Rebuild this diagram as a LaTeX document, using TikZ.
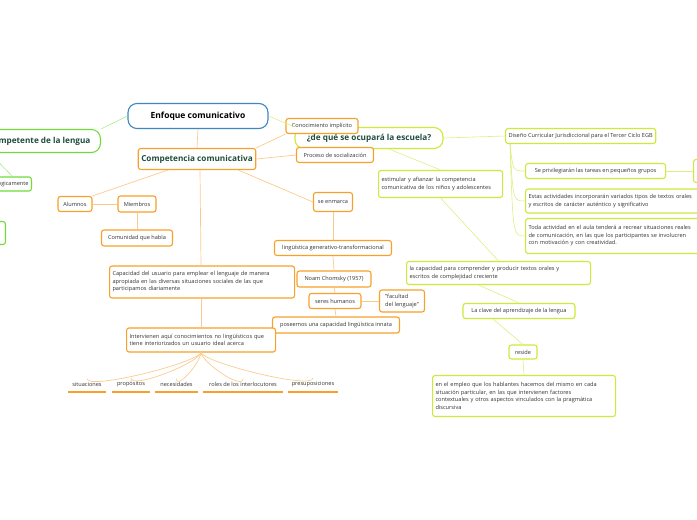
\documentclass[tikz,border=0pt]{standalone}
\usepackage{fontspec}
\setmainfont{Open Sans}
\begin{document}
\begin{tikzpicture}[x=1pt,y=-1pt,
 every node/.style={font=\fontsize{5.6}{7.5}\selectfont,text=black!80, inner sep=3pt},
 ob/.style={draw=orgB,line width=1.1pt,rounded corners=2.5pt,fill=white},
 gb/.style={draw=ygB,line width=1.1pt,rounded corners=2.5pt,fill=white},
 lb/.style={draw=grB,line width=1.1pt,rounded corners=2.5pt,fill=white},
 ol/.style={draw=orgL,line width=0.7pt},
 yl/.style={draw=ygL,line width=0.6pt},
 gl/.style={draw=grL,line width=0.6pt},
 big/.style={font=\fontsize{8.2}{10}\selectfont\bfseries,text=dkg}]
\definecolor{orgB}{HTML}{F7A02A}\definecolor{orgL}{HTML}{FBCB8E}
\definecolor{ygB}{HTML}{CBEA3A}\definecolor{ygL}{HTML}{DDEF80}
\definecolor{grB}{HTML}{6EDD3A}\definecolor{grL}{HTML}{A8EC88}
\definecolor{blB}{HTML}{3C87C6}\definecolor{dkg}{HTML}{1F4D3A}
\useasboundingbox (0,0) rectangle (697,520);
\clip (0,0) rectangle (697,520);
% nodes
\node[draw=blB,line width=1.1pt,rounded corners=9pt,fill=white,minimum width=140pt,minimum height=25pt,font=\fontsize{8.5}{10}\selectfont\bfseries,text=black] (enf) at (198,116) {Enfoque comunicativo};
\node[draw=grB,line width=1.1pt,rounded corners=9pt,fill=white,minimum height=23pt,big,anchor=east,inner xsep=10pt] (comp) at (101,141) {Competente de la lengua};
\node[lb,anchor=east,minimum height=14pt] (log) at (32,184) {lógicamente};
\node[lb,anchor=east,minimum height=23pt,minimum width=20pt] (gb2) at (6,233) {};
\node[ob,big,minimum width=116pt,minimum height=21pt] (cc) at (197,159) {Competencia comunicativa};
\node[draw=ygB,line width=1.1pt,rounded corners=9pt,fill=white,big,minimum width=148pt,minimum height=21pt] (esc) at (369,138) {¿de qué se ocupará la escuela?};
\node[ob,minimum width=72pt,minimum height=15pt] (ci) at (322,126) {Conocimiento implícito};
\node[ob,minimum width=77pt,minimum height=15pt] (ps) at (335,155) {Proceso de socialización};
\node[gb,anchor=west,minimum height=15pt] (dc) at (505,136) {Diseño Curricular Jurisdiccional para el Tercer Ciclo EGB};
\node[gb,anchor=west,minimum width=140pt,minimum height=15pt,align=left] (sp) at (525,171) {Se privilegiarán las tareas en pequeños grupos};
\node[gb,anchor=west,minimum width=30pt,minimum height=23pt] (cl) at (693,171) {};
\node[gb,anchor=west,align=left,text width=200pt,minimum height=24pt] (ea) at (525,201) {Estas actividades incorporarán variados tipos de textos orales\\y escritos de carácter auténtico y significativo};
\node[gb,anchor=west,align=left,text width=200pt,minimum height=35pt] (ta) at (525,236) {Toda actividad en el aula tenderá a recrear situaciones reales\\de comunicación, en las que los participantes se involucren\\con motivación y con creatividad.};
\node[gb,anchor=west,align=left,text width=118pt,minimum height=27pt] (est) at (378,184) {estimular y afianzar la competencia\\comunicativa de los niños y adolescentes};
\node[gb,anchor=west,align=left,text width=178pt,minimum height=23pt] (lc) at (406,273) {la capacidad para comprender y producir textos orales y\\escritos de complejidad creciente};
\node[gb,minimum width=112pt,minimum height=15pt] (cla) at (519,311) {La clave del aprendizaje de la lengua};
\node[gb,minimum width=28pt,minimum height=14pt] (res) at (523,352) {reside};
\node[gb,anchor=west,align=left,text width=177pt,minimum height=41pt] (emp) at (432,396) {en el empleo que los hablantes hacemos del mismo en cada\\situación particular, en las que intervienen factores\\contextuales y otros aspectos vinculados con la pragmática\\discursiva};
\node[ob,minimum width=34pt,minimum height=15pt] (al) at (75,204) {Alumnos};
\node[ob,minimum width=38pt,minimum height=16pt] (mi) at (137,204) {Miembros};
\node[ob,minimum width=71pt,minimum height=16pt] (co) at (137,238) {Comunidad que habla};
\node[ob,minimum width=39pt,minimum height=19pt] (se) at (333,202) {se enmarca};
\node[ob,minimum width=117pt,minimum height=15pt] (lg) at (333,248) {lingüística generativo-transformacional};
\node[ob,minimum width=74pt,minimum height=16pt] (nc) at (334,279) {Noam Chomsky (1957)};
\node[ob,minimum width=52pt,minimum height=15pt] (sh) at (335,301) {seres humanos};
\node[ob,align=left,minimum width=45pt,minimum height=22pt] (fl) at (402,301) {"facultad\\del lenguaje"};
\node[ob,minimum width=127pt,minimum height=16pt] (po) at (336,325) {poseemos una capacidad lingüística innata};
\node[ob,anchor=west,align=left,text width=179pt,minimum height=32pt] (cu) at (109,282) {Capacidad del usuario para emplear el lenguaje de manera\\apropiada en las diversas situaciones sociales de las que\\participamos diariamente};
\node[ob,anchor=west,align=left,text width=143pt,minimum height=24pt] (iv) at (126,340) {Intervienen aquí conocimientos no lingüísticos que\\tiene interiorizados un usuario ideal acerca};
\foreach \n/\t/\a/\b in {s1/situaciones/68/106,s2/propósitos/112/150,s3/necesidades/155/198,s4/roles de los interlocutores/203/283,s5/presuposiciones/288/338}{
 \node (\n) at ({(\a+\b)/2},384) {\t};
 \draw[draw=orgB,line width=1.1pt] (\a,392) -- (\b,392);}
% connectors
\coordinate (bx) at (513,0);
\coordinate (ivb) at (201,352);
\draw[ol] (enf.south) -- (cc.north);
\draw[gl] (enf.west) -- (comp.north east);
\draw[yl] (enf.east) -- (esc.north west);
\draw[ol] (cc.north east) -- (ci.south west);
\draw[ol] (cc.east) -- (ps.west);
\draw[ol] ([xshift=30pt]cc.south west) -- (al.north east);
\draw[ol] (al.east) -- (mi.west);
\draw[ol] (mi.south) -- (co.north);
\draw[ol] ([xshift=-18pt]cc.south east) -- (se.west);
\draw[ol] (se.south) -- (lg.north);
\draw[ol] (lg.south) -- (nc.north);
\draw[ol] (nc.south) -- (sh.north);
\draw[ol] (sh.south) -- (po.north);
\draw[ol] (sh.east) -- (fl.west);
\draw[ol] ([xshift=3pt]cc.south) -- (cu.north -| ivb);
\draw[ol] (cu.south -| ivb) -- (iv.north -| ivb);
\foreach \n in {s1,s2,s3,s4,s5} \draw[ol] (ivb) .. controls (201,362) and ([yshift=-12pt]\n.north) .. (\n.north);
\draw[yl] (esc.east) -- (dc.west);
\draw[yl] ([xshift=20pt]esc.south) -- (est.north);
\draw[yl] (est.south) -- (lc.north);
\draw[yl] ([xshift=-20pt]lc.south) -- (cla.north);
\draw[yl] ([xshift=-26pt]cla.south) -- (res.north);
\draw[yl] (res.south) -- (emp.north);
\foreach \n in {sp,ea,ta} \draw[yl] ([xshift=5pt]dc.south west) .. controls (bx |- \n.west) .. (\n.west);
\draw[yl] (sp.east) -- (cl.west);
\draw[gl] ([xshift=12pt]comp.south west) -- (log.north);
\end{tikzpicture}
\end{document}
